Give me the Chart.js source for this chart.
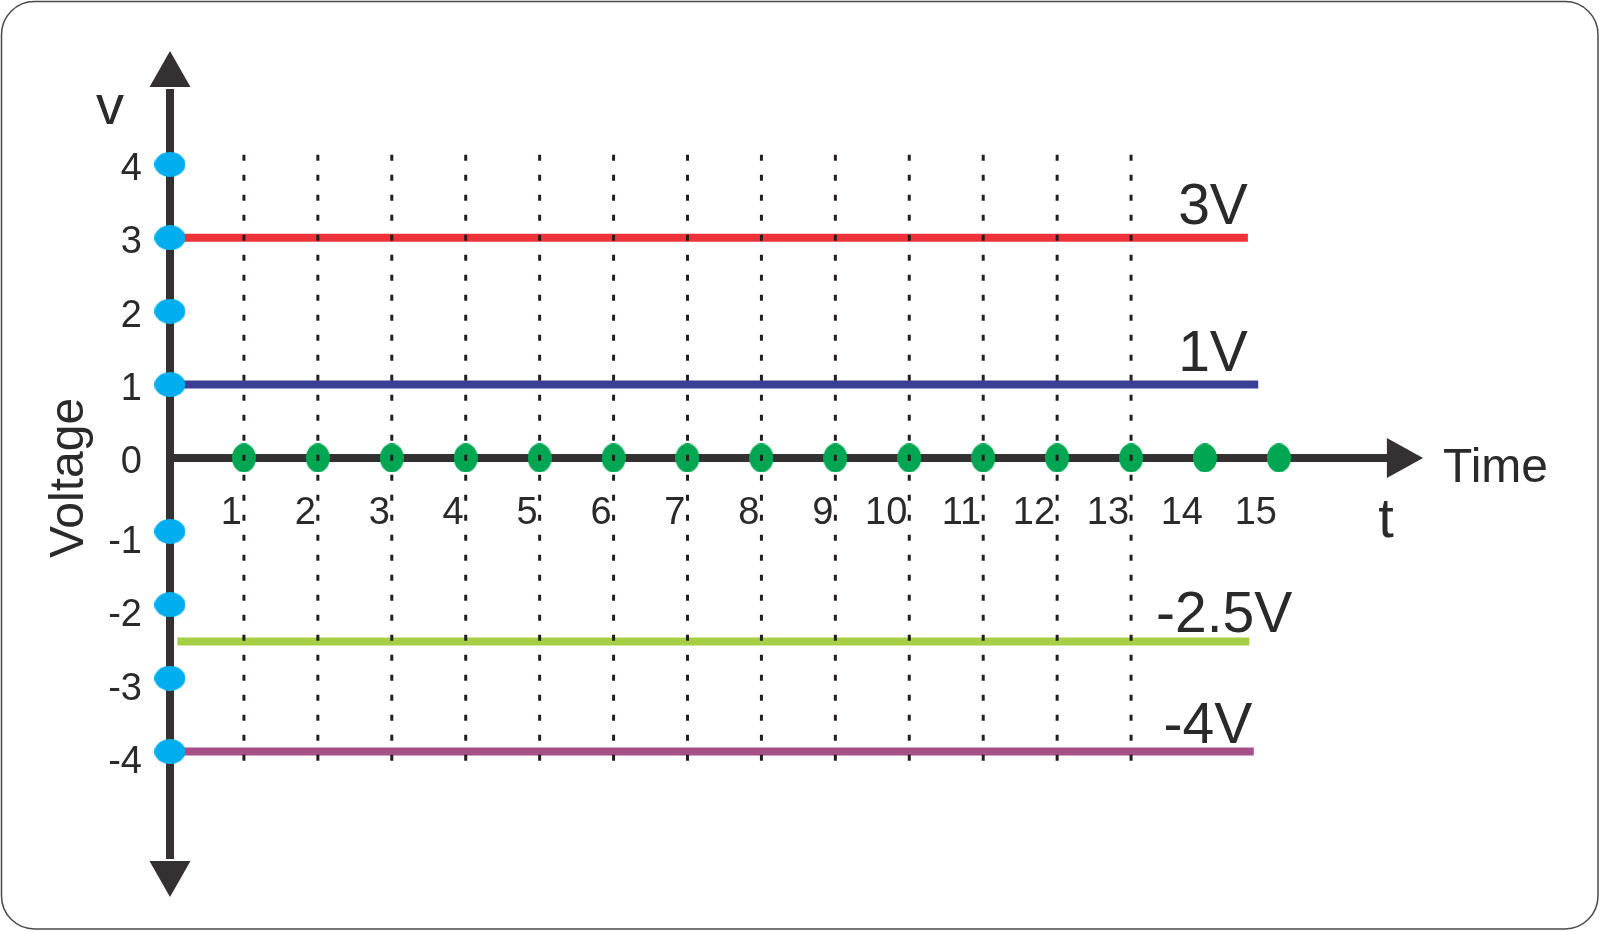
<!DOCTYPE html>
<html>
<head>
<meta charset="utf-8">
<script src="https://cdn.jsdelivr.net/npm/chart.js@4.4.1/dist/chart.umd.min.js"></script>
<style>
  html, body { margin: 0; padding: 0; background: #ffffff; }
  #wrap { width: 1600px; height: 932px; }
  canvas { display: block; }
</style>
</head>
<body>
<div id="wrap"><canvas id="c" width="1600" height="932"></canvas></div>
<script>
// ---- data ----
const timeTicks = [1, 2, 3, 4, 5, 6, 7, 8, 9, 10, 11, 12, 13, 14, 15];
const timeLabels = ['1', '2', '3', '4', '5', '6', '7', '8', '9', '10', '11', '12', '13', '14', '15'];
const gridTimes = [1, 2, 3, 4, 5, 6, 7, 8, 9, 10, 11, 12, 13];
const voltTicks = [4, 3, 2, 1, 0, -1, -2, -3, -4];
const voltLabels = ['4', '3', '2', '1', '0', '-1', '-2', '-3', '-4'];
const markedVolts = [4, 3, 2, 1, -1, -2, -3, -4];
const levelNames = ['3V', '1V', '-2.5V', '-4V'];
const levelValues = [3, 1, -2.5, -4];
const levelStarts = [0, 0, 0.1, 0];
const levelEnds = [14.58, 14.72, 14.6, 14.66];
const levelLabelAt = [14.58, 14.58, 15.18, 14.64];
const gridTop = 4.13, gridBottom = -4.14;
const xAxisEnd = 16.95, xArrowBase = 16.46;
const yAxisTop = 5.545, yArrowTopBase = 5.054, yAxisBottom = -5.98, yArrowBottomBase = -5.49;

// ---- styles ----
const levelColors = ['#ee3239', '#3a3f96', '#a6cf45', '#a6508a'];
const inkColor = '#333132';
const textColor = '#2b2a2a';
const FONT = '"Liberation Sans", Arial, sans-serif';

function ellipseImg(w, h, color) {
  const c = document.createElement('canvas');
  c.width = w; c.height = h;
  const g = c.getContext('2d');
  g.fillStyle = color;
  g.beginPath();
  g.ellipse(w / 2, h / 2, w / 2, h / 2, 0, 0, Math.PI * 2);
  g.fill();
  return c;
}
const blueDot = ellipseImg(31, 25, '#00aeef');
const greenDot = ellipseImg(24, 29, '#00a651');

const datasets = [];
// level lines
levelValues.forEach((v, i) => {
  datasets.push({
    label: levelNames[i],
    data: [{x: levelStarts[i], y: v}, {x: levelEnds[i], y: v}],
    showLine: true,
    borderColor: levelColors[i],
    borderWidth: 8,
    pointRadius: 0,
    order: 10
  });
});
// green time points
datasets.push({
  label: 'time points',
  data: timeTicks.map(t => ({x: t, y: 0})),
  pointStyle: greenDot,
  pointRadius: 12,
  order: 5
});
// blue voltage points
datasets.push({
  label: 'voltage points',
  data: markedVolts.map(v => ({x: 0, y: v})),
  pointStyle: blueDot,
  pointRadius: 12,
  order: 5
});
// dotted verticals
gridTimes.forEach(t => {
  datasets.push({
    label: 'grid ' + t,
    data: [{x: t, y: gridTop}, {x: t, y: gridBottom}],
    showLine: true,
    borderColor: '#231f20',
    borderWidth: 3,
    borderDash: [6, 14],
    pointRadius: 0,
    order: 1
  });
});

const axesPlugin = {
  id: 'axes',
  beforeDatasetsDraw(chart) {
    const ctx = chart.ctx, xs = chart.scales.x, ys = chart.scales.y;
    const x0 = xs.getPixelForValue(0), y0 = ys.getPixelForValue(0);
    ctx.save();
    ctx.strokeStyle = inkColor;
    ctx.fillStyle = inkColor;
    ctx.lineWidth = 8;
    ctx.lineCap = 'butt';
    // vertical axis
    ctx.beginPath();
    ctx.moveTo(x0, ys.getPixelForValue(yArrowTopBase) + 2);
    ctx.lineTo(x0, ys.getPixelForValue(yArrowBottomBase) - 2);
    ctx.stroke();
    // horizontal axis
    ctx.beginPath();
    ctx.moveTo(x0 - 4, y0);
    ctx.lineTo(xs.getPixelForValue(xArrowBase) + 2, y0);
    ctx.stroke();
    // arrowheads
    const hw = 20.5;
    let tip = ys.getPixelForValue(yAxisTop), base = ys.getPixelForValue(yArrowTopBase);
    ctx.beginPath(); ctx.moveTo(x0, tip); ctx.lineTo(x0 + hw, base); ctx.lineTo(x0 - hw, base); ctx.closePath(); ctx.fill();
    tip = ys.getPixelForValue(yAxisBottom); base = ys.getPixelForValue(yArrowBottomBase);
    ctx.beginPath(); ctx.moveTo(x0, tip); ctx.lineTo(x0 + hw, base); ctx.lineTo(x0 - hw, base); ctx.closePath(); ctx.fill();
    tip = xs.getPixelForValue(xAxisEnd); base = xs.getPixelForValue(xArrowBase);
    ctx.beginPath(); ctx.moveTo(tip, y0); ctx.lineTo(base, y0 - 20); ctx.lineTo(base, y0 + 20); ctx.closePath(); ctx.fill();
    ctx.restore();
  },
  afterDraw(chart) {
    const ctx = chart.ctx, xs = chart.scales.x, ys = chart.scales.y;
    const x0 = xs.getPixelForValue(0), y0 = ys.getPixelForValue(0);
    ctx.save();
    // frame
    ctx.strokeStyle = '#4a4a4a';
    ctx.lineWidth = 1.5;
    ctx.beginPath();
    ctx.roundRect(1.5, 1.5, 1596.5, 927.5, 33);
    ctx.stroke();

    ctx.fillStyle = textColor;
    // y tick labels
    ctx.font = '38px ' + FONT;
    ctx.textAlign = 'right';
    ctx.textBaseline = 'middle';
    voltTicks.forEach((v, i) => {
      const off = v < 0 ? 11 : 5;
      ctx.fillText(voltLabels[i], x0 - 28, ys.getPixelForValue(v) + off);
    });
    // x tick labels
    ctx.textBaseline = 'alphabetic';
    timeTicks.forEach((t, i) => {
      ctx.fillText(timeLabels[i], xs.getPixelForValue(t) - 2, y0 + 66);
    });
    // level labels
    ctx.font = '57px ' + FONT;
    levelValues.forEach((v, i) => {
      const off = v < 0 ? 9 : 14;
      ctx.fillText(levelNames[i], xs.getPixelForValue(levelLabelAt[i]), ys.getPixelForValue(v) - off);
    });
    // axis titles
    ctx.font = '48px ' + FONT;
    ctx.textAlign = 'left';
    ctx.fillText('Time', xs.getPixelForValue(xAxisEnd) + 20, y0 + 24);
    ctx.font = '56px ' + FONT;
    ctx.textAlign = 'center';
    ctx.fillText('t', xs.getPixelForValue(xAxisEnd) - 37, y0 + 79);
    ctx.fillText('v', x0 - 60, ys.getPixelForValue(yAxisTop) + 73);
    // rotated Voltage
    ctx.font = '48px ' + FONT;
    ctx.translate(83, y0 + 20);
    ctx.rotate(-Math.PI / 2);
    ctx.textAlign = 'center';
    ctx.textBaseline = 'alphabetic';
    ctx.fillText('Voltage', 0, 0);
    ctx.restore();
  }
};

new Chart(document.getElementById('c'), {
  type: 'scatter',
  data: { datasets },
  options: {
    responsive: false,
    devicePixelRatio: 1,
    animation: false,
    events: [],
    layout: { padding: 0, autoPadding: false },
    plugins: { legend: { display: false }, tooltip: { enabled: false } },
    scales: {
      x: { type: 'linear', display: false, min: -2.2995, max: 19.343 },
      y: { type: 'linear', display: false, min: -6.458, max: 6.240 }
    }
  },
  plugins: [axesPlugin]
});
</script>
</body>
</html>
